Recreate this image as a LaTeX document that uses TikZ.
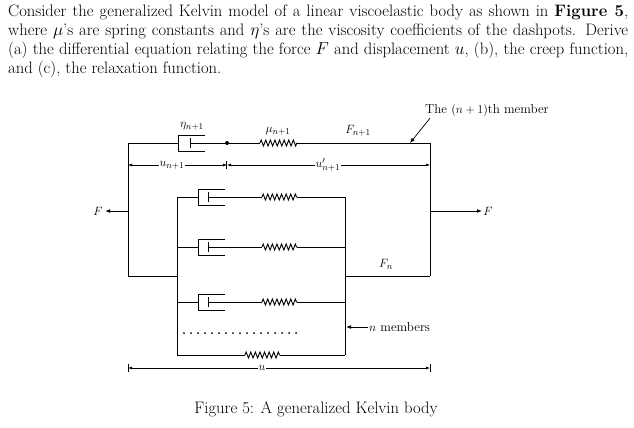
\documentclass[tikz,border=0pt]{standalone}
\usepackage{amsmath}
\usetikzlibrary{calc,arrows.meta,decorations.pathmorphing}
\tikzset{
  wire/.style={line width=0.9pt},
  spring/.style={wire,decorate,decoration={zigzag,segment length=4.6pt,amplitude=3pt}},
  dim/.style={line width=0.6pt,{Latex[length=4pt]}-{Latex[length=4pt]}},
  lab/.style={inner sep=1pt,font=\fontsize{13}{15}\selectfont}
}
% dashpot: cylinder from #1, piston at #2 (same y), rod ends at #3
\newcommand{\dashpot}[3]{%
  \draw[wire] ($(#1)+(27,-8)$) -| ($(#1)+(0,8)$) -- ($(#1)+(27,8)$);
  \draw[wire] ($(#2)+(0,-5)$) -- ($(#2)+(0,5)$);
  \draw[wire] (#2) -- (#3);}
\begin{document}
\begin{tikzpicture}[x=1pt,y=-1pt]
\useasboundingbox (0,0) rectangle (634,428);
% problem text
\node[anchor=north west,text width=620pt,inner sep=0pt,font=\fontsize{16.6}{19}\selectfont,align=justify] (txt) at (8,5)
 {Consider the generalized Kelvin model of a linear viscoelastic body as shown in \textbf{Figure 5},\linebreak
 where $\mu$'s are spring constants and $\eta$'s are the viscosity coefficients of the dashpots. Derive\linebreak
 (a) the differential equation relating the force $F$ and displacement $u$, (b), the creep function,\linebreak
 and (c), the relaxation function.};

% outer frame
\coordinate (oTL) at (128,143); \coordinate (oTR) at (430,143);
\coordinate (oBL) at (128,276); \coordinate (oBR) at (430,276);
\coordinate (fL) at (105,211); \coordinate (fR) at (482,211);
\draw[wire] (oBL) -- (oTL) -- (178,143);
\dashpot{178,143}{190,143}{227,143}
\coordinate (mid) at (227,143);
\fill (mid) circle (2pt);
\draw[wire] (mid) -- (260,143);
\draw[spring] (260,143) -- (297,143);
\draw[wire] (297,143) -- (oTR) -- (oBR);
\draw[wire,-{Latex[length=5pt]}] (128,211) -- (fL);
\draw[wire,-{Latex[length=5pt]}] (430,211) -- (fR);
\node[lab] (lF) at (98,211) {$F$};
\node[lab] (rF) at (488,211) {$F$};
\node[lab] (eta) at (192,126) {$\eta_{n+1}$};
\node[lab] (mu) at (278,131) {$\mu_{n+1}$};
\node[lab] (Fn1) at (358,131) {$F_{n+1}$};
\node[anchor=west,lab] (mem) at (424,110) {The $(n+1)$th member};
\draw[line width=0.7pt,-{Latex[length=5pt]}] (mem.south west) ++(6,1) -- (410,143);

% dimension u_{n+1}, u'_{n+1}
\draw[dim] (128,165) -- (mid |- 0,165);
\draw[dim] (mid |- 0,165) -- (430,165);
\draw[line width=0.6pt] (226,161) -- (226,169);
\node[lab,fill=white] (un) at (172,165) {$u_{n+1}$};
\node[lab,fill=white] (unp) at (328,165) {$u'_{n+1}$};

% inner box
\coordinate (iTL) at (177,197); \coordinate (iTR) at (345,197);
\coordinate (iBL) at (177,355); \coordinate (iBR) at (345,355);
\draw[wire] (oBL) -- (177,276);
\draw[wire] (345,276) -- (oBR);
\draw[wire] (iTL) -- (iBL);
\draw[wire] (iTR) -- (iBR);
\foreach \y in {197,247,302}{
  \draw[wire] (177,\y) -- (198,\y);
  \dashpot{198,\y}{208,\y}{262,\y}
  \draw[spring] (262,\y) -- (297,\y);
  \draw[wire] (297,\y) -- (345,\y);
}
\foreach \x in {184,191,...,296} \fill (\x,333) circle (1pt);
\draw[wire] (iBL) -- (245,355);
\draw[spring] (245,355) -- (280,355);
\draw[wire] (280,355) -- (iBR);
\node[lab] (Fn) at (386,264) {$F_n$};
\node[anchor=west,lab] (nm) at (368,327) {$n$ members};
\draw[line width=0.7pt,-{Latex[length=5pt]}] (nm.west) -- (346,327);

% dimension u
\draw[dim] (128,368) -- (430,368);
\draw[line width=0.6pt] (128,364) -- (128,372) (430,364) -- (430,372);
\node[lab,fill=white] (u) at (262,368) {$u$};

\node[font=\fontsize{16.6}{18}\selectfont] (cap) at (316,409) {Figure 5: A generalized Kelvin body};
\end{tikzpicture}
\end{document}
